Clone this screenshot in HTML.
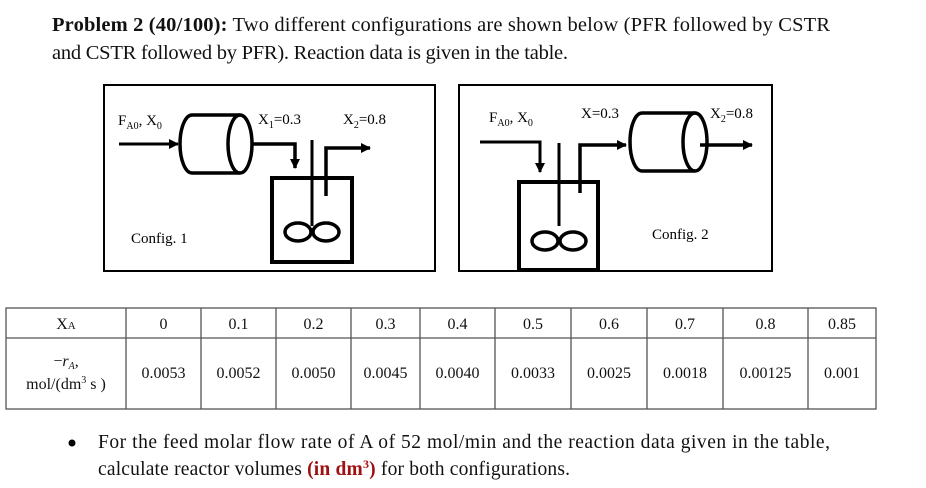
<!DOCTYPE html>
<html><head><meta charset="utf-8"><style>
html,body{margin:0;padding:0;background:#fff;}
svg{display:block;font-family:"Liberation Serif",serif;}
</style></head><body>
<svg width="926" height="488" viewBox="0 0 926 488" xmlns="http://www.w3.org/2000/svg">
<defs>
<marker id="ah" markerWidth="10" markerHeight="10" refX="9" refY="5" orient="auto" markerUnits="userSpaceOnUse"><path d="M0,0 L10,5 L0,10 z" fill="#000"/></marker>
</defs>
<g fill="#111">
<text x="52" y="31" font-size="20.5" textLength="778" lengthAdjust="spacing"><tspan font-weight="bold">Problem 2 (40/100):</tspan> Two different configurations are shown below (PFR followed by CSTR</text>
<text x="52" y="59" font-size="20.5" textLength="516" lengthAdjust="spacing">and CSTR followed by PFR). Reaction data is given in the table.</text>
</g>

<g stroke="#000" fill="none">
<rect x="104" y="85" width="331" height="186" stroke-width="2"/>
<line x1="119" y1="144" x2="178" y2="144" stroke-width="3" marker-end="url(#ah)"/>
<path d="M192,115 L240,115 M192,173 L240,173 M192,115 A12,29 0 0 0 192,173" stroke-width="3.5"/>
<ellipse cx="240" cy="144" rx="12" ry="29" stroke-width="3.5"/>
<path d="M252,144 L295,144 L295,168" stroke-width="3.5" marker-end="url(#ah)"/>
<rect x="272" y="178" width="80" height="84" stroke-width="4"/>
<line x1="312" y1="140" x2="312" y2="226" stroke-width="3"/>
<ellipse cx="298" cy="232" rx="13" ry="9" stroke-width="3.5"/>
<ellipse cx="326" cy="232" rx="13" ry="9" stroke-width="3.5"/>
<path d="M326,196 L326,148 L370,148" stroke-width="3.5" marker-end="url(#ah)"/>
<g stroke="none" fill="#000" font-size="15">
<text x="118" y="125">F<tspan font-size="10" dy="4">A0</tspan><tspan dy="-4">, X</tspan><tspan font-size="10" dy="4">0</tspan></text>
<text x="258" y="124">X<tspan font-size="10" dy="4">1</tspan><tspan dy="-4">=0.3</tspan></text>
<text x="343" y="124">X<tspan font-size="10" dy="4">2</tspan><tspan dy="-4">=0.8</tspan></text>
<text x="131" y="243">Config. 1</text>
</g>
</g>

<g stroke="#000" fill="none">
<rect x="459" y="85" width="313" height="186" stroke-width="2"/>
<path d="M480,142 L540,142 L540,172" stroke-width="3" marker-end="url(#ah)"/>
<rect x="519" y="182" width="79" height="88" stroke-width="4"/>
<line x1="559" y1="143" x2="559" y2="226" stroke-width="3"/>
<ellipse cx="545" cy="241" rx="13" ry="9" stroke-width="3.5"/>
<ellipse cx="573" cy="241" rx="13" ry="9" stroke-width="3.5"/>
<path d="M580,193 L580,145 L626,145" stroke-width="3.5" marker-end="url(#ah)"/>
<path d="M642,113 L695,113 M642,171 L695,171 M642,113 A12,29 0 0 0 642,171" stroke-width="3.5"/>
<ellipse cx="695" cy="142" rx="12" ry="29" stroke-width="3.5"/>
<line x1="700" y1="145" x2="752" y2="145" stroke-width="3.5" marker-end="url(#ah)"/>
<g stroke="none" fill="#000" font-size="15">
<text x="489" y="122">F<tspan font-size="10" dy="4">A0</tspan><tspan dy="-4">, X</tspan><tspan font-size="10" dy="4">0</tspan></text>
<text x="581" y="118">X=0.3</text>
<text x="710" y="118">X<tspan font-size="10" dy="4">2</tspan><tspan dy="-4">=0.8</tspan></text>
<text x="652" y="239">Config. 2</text>
</g>
</g>

<g id="table"></g>

<g fill="#111" font-size="19.5">
<circle cx="72" cy="443" r="3.5" fill="#000"/>
<text x="98" y="448" textLength="732" lengthAdjust="spacing">For the feed molar flow rate of A of 52 mol/min and the reaction data given in the table,</text>
<text x="98" y="475" textLength="472" lengthAdjust="spacing">calculate reactor volumes <tspan fill="#a01010" font-weight="bold">(in dm<tspan font-size="12" dy="-7">3</tspan><tspan dy="7">)</tspan></tspan> for both configurations.</text>
</g>
</svg>
<script>
const xaLabels = ["0","0.1","0.2","0.3","0.4","0.5","0.6","0.7","0.8","0.85"];
const rateLabels = ["0.0053","0.0052","0.0050","0.0045","0.0040","0.0033","0.0025","0.0018","0.00125","0.001"];
const colEdges = [6,126,201,276,351,420,495,571,647,723,808,876];
const NS="http://www.w3.org/2000/svg";
const tbl=document.getElementById('table');
function mk(tag,attrs,parent){const e=document.createElementNS(NS,tag);for(const k in attrs)e.setAttribute(k,attrs[k]);parent.appendChild(e);return e;}
const rowTop=308, rowMid=338, rowBot=409;
const frame=mk('rect',{x:colEdges[0],y:rowTop,width:colEdges[colEdges.length-1]-colEdges[0],height:rowBot-rowTop,fill:'none',stroke:'#555','stroke-width':1.3},tbl);


const hl=mk('line',{x1:colEdges[0],x2:colEdges[colEdges.length-1],y1:rowMid,y2:rowMid,stroke:'#555','stroke-width':1.3},tbl);


for(let i=1;i<colEdges.length-1;i++){
  const l=mk('line',{x1:colEdges[i],x2:colEdges[i],y1:rowTop,y2:rowBot,stroke:'#555','stroke-width':1.3},tbl);
  
  
}
const hx=(colEdges[0]+colEdges[1])/2;
const h1=mk('text',{x:hx,y:329,'text-anchor':'middle','font-size':16,fill:'#111'},tbl);
h1.innerHTML='X<tspan font-size="11">A</tspan>';


const h2=mk('text',{x:hx,y:366,'text-anchor':'middle','font-size':16,fill:'#111'},tbl);
h2.innerHTML='−<tspan font-style="italic">r<tspan font-size="10" dy="3">A</tspan></tspan><tspan dy="-3">,</tspan>';


const h3=mk('text',{x:hx,y:389,'text-anchor':'middle','font-size':16,fill:'#111'},tbl);
h3.innerHTML='mol/(dm<tspan font-size="10" dy="-6">3</tspan><tspan dy="6"> s )</tspan>';


for(let i=0;i<xaLabels.length;i++){
  const cx=(colEdges[i+1]+colEdges[i+2])/2;
  const a=mk('text',{x:cx,y:329,'text-anchor':'middle','font-size':16,fill:'#111'},tbl);
  a.textContent=xaLabels[i];
  
  
  const b=mk('text',{x:cx,y:378,'text-anchor':'middle','font-size':16,fill:'#111'},tbl);
  b.textContent=rateLabels[i];
  
  
}
</script>
</body></html>
